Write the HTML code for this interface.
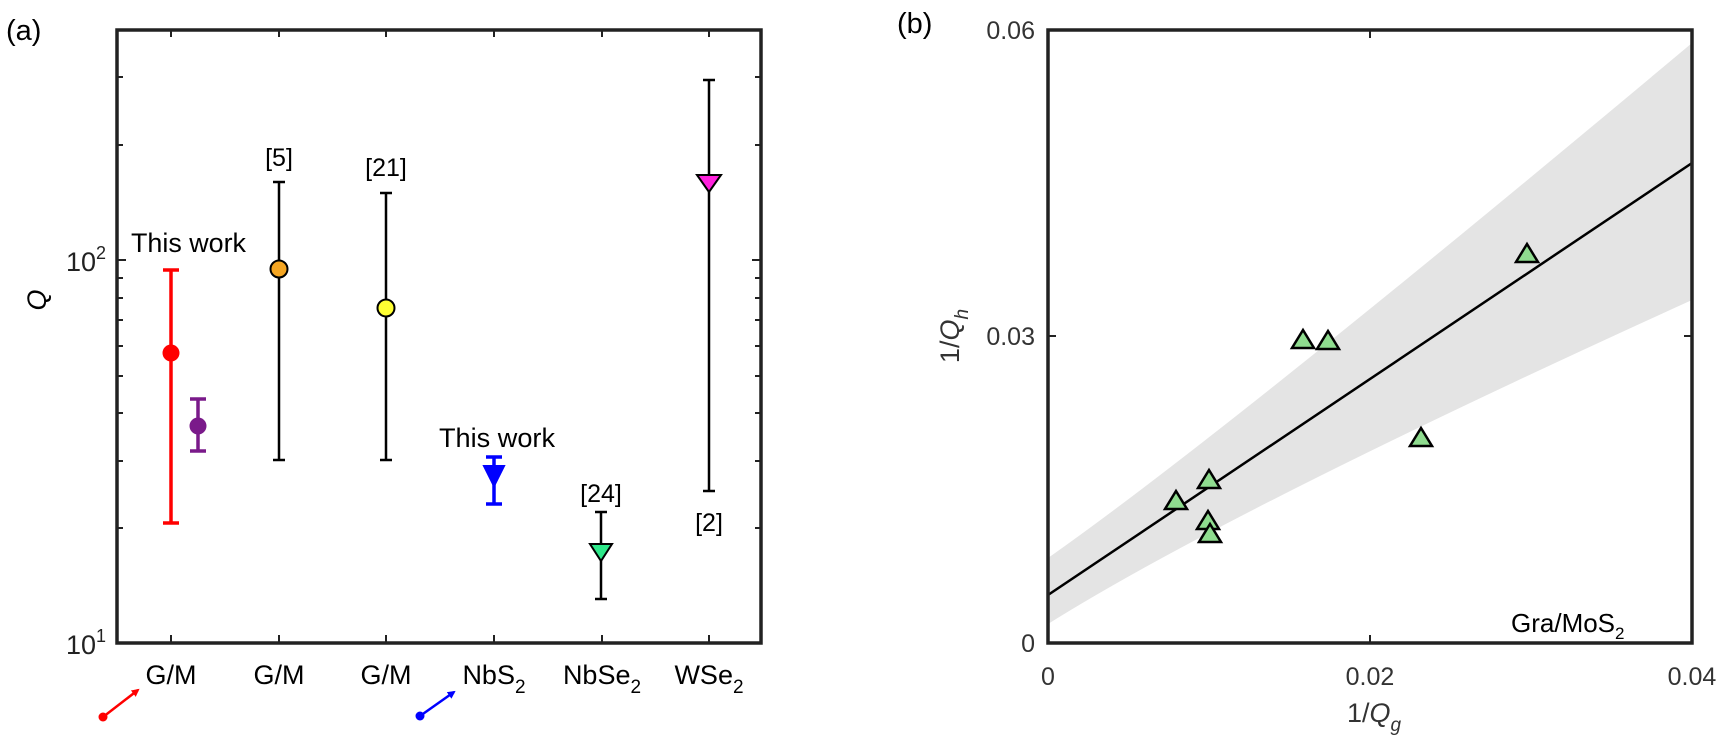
<!DOCTYPE html>
<html><head><meta charset="utf-8"><style>
html,body{margin:0;padding:0;background:#fff;}
svg{display:block;font-family:"Liberation Sans",sans-serif;}
</style></head><body>
<svg width="1725" height="750" viewBox="0 0 1725 750" xmlns="http://www.w3.org/2000/svg">
<defs>
<clipPath id="cb"><rect x="1048" y="30" width="644" height="613"/></clipPath>
<marker id="ar" markerWidth="8" markerHeight="8" refX="6" refY="4" orient="auto" markerUnits="userSpaceOnUse"><path d="M0,0 L8,4 L0,8 z" fill="red"/></marker>
<marker id="ab" markerWidth="8" markerHeight="8" refX="6" refY="4" orient="auto" markerUnits="userSpaceOnUse"><path d="M0,0 L8,4 L0,8 z" fill="blue"/></marker>
</defs>

<!-- Panel (a) -->
<text x="6" y="40" font-size="29">(a)</text>
<g stroke="#222" stroke-width="2">
<path d="M117,528h6M117,461h6M117,413h6M117,376h6M117,346h6M117,320h6M117,298h6M117,278h6M117,260h9M117,145h6M117,77h6
M761,528h-6M761,461h-6M761,413h-6M761,376h-6M761,346h-6M761,320h-6M761,298h-6M761,278h-6M761,260h-9M761,145h-6M761,77h-6"/>
<path d="M171,643v-8M279,643v-8M386,643v-8M494,643v-8M602,643v-8M709,643v-8
M171,30v7M279,30v7M386,30v7M494,30v7M602,30v7M709,30v7"/>
</g>
<rect x="117" y="30" width="644" height="613" fill="none" stroke="#222" stroke-width="3.5"/>
<g font-size="27" text-anchor="end" fill="#222">
<text x="106" y="271">10<tspan font-size="18" dy="-12">2</tspan></text>
<text x="106" y="654">10<tspan font-size="18" dy="-12">1</tspan></text>
</g>
<text transform="translate(46,300) rotate(-90)" font-size="27" font-style="italic" text-anchor="middle">Q</text>

<g stroke="red" stroke-width="3.5"><path d="M171,270V523M163,270h16M163,523h16"/></g>
<circle cx="171" cy="353" r="8.5" fill="red"/>
<g stroke="#7a1a8a" stroke-width="3.5"><path d="M198,399V451M190,399h16M190,451h16"/></g>
<circle cx="198" cy="426" r="8.5" fill="#7a1a8a"/>
<g stroke="#000" stroke-width="2.5"><path d="M279,182V460M273,182h12M273,460h12"/></g>
<circle cx="279" cy="269" r="8.5" fill="#f5a623" stroke="#000" stroke-width="2"/>
<g stroke="#000" stroke-width="2.5"><path d="M386,193V460M380,193h12M380,460h12"/></g>
<circle cx="386" cy="308" r="8.5" fill="#ffff33" stroke="#000" stroke-width="2"/>
<g stroke="blue" stroke-width="3.5"><path d="M494,457V504M486,457h16M486,504h16"/></g>
<path d="M484,466 L504,466 L494,486 z" fill="blue" stroke="blue" stroke-width="2"/>
<g stroke="#000" stroke-width="2.5"><path d="M601,512V599M595,512h12M595,599h12"/></g>
<path d="M590,544 L612,544 L601,561 z" fill="#2ee88a" stroke="#000" stroke-width="2"/>
<g stroke="#000" stroke-width="2.5"><path d="M709,80V491M703,80h12M703,491h12"/></g>
<path d="M697,175 L721,175 L709,192 z" fill="#ff22dd" stroke="#000" stroke-width="2"/>

<g font-size="25" text-anchor="middle">
<text x="279" y="166">[5]</text>
<text x="386" y="176">[21]</text>
<text x="601" y="502">[24]</text>
<text x="709" y="531">[2]</text>
</g>
<g font-size="27">
<text x="131" y="252" textLength="115" lengthAdjust="spacingAndGlyphs">This work</text>
<text x="439" y="447" textLength="116" lengthAdjust="spacingAndGlyphs">This work</text>
</g>
<g font-size="27" text-anchor="middle">
<text x="171" y="684">G/M</text>
<text x="279" y="684">G/M</text>
<text x="386" y="684">G/M</text>
<text x="494" y="684">NbS<tspan font-size="19" dy="9">2</tspan></text>
<text x="602" y="684">NbSe<tspan font-size="19" dy="9">2</tspan></text>
<text x="709" y="684">WSe<tspan font-size="19" dy="9">2</tspan></text>
</g>
<line x1="103" y1="717" x2="138" y2="690" stroke="red" stroke-width="2.5" marker-end="url(#ar)"/>
<circle cx="103" cy="717" r="4.5" fill="red"/>
<line x1="420" y1="716" x2="454" y2="692" stroke="blue" stroke-width="2.5" marker-end="url(#ab)"/>
<circle cx="420" cy="716" r="4.5" fill="blue"/>

<!-- Panel (b) -->
<text x="897" y="33" font-size="29">(b)</text>
<g clip-path="url(#cb)">
<path d="M1048,558 Q1230,430 1692,43 L1692,300 Q1230,510 1048,624 z" fill="#e4e4e4"/>
<line x1="1048" y1="595" x2="1692" y2="163" stroke="#000" stroke-width="2.5"/>
</g>
<g fill="#8fdc8f" stroke="#000" stroke-width="2.5">
<path d="M1176,491 L1187,509 L1165,509 z"/>
<path d="M1209,470 L1220,488 L1198,488 z"/>
<path d="M1208,511 L1219,529 L1197,529 z"/>
<path d="M1210,524 L1221,542 L1199,542 z"/>
<path d="M1303,330 L1314,348 L1292,348 z"/>
<path d="M1328,331 L1339,349 L1317,349 z"/>
<path d="M1421,428 L1432,446 L1410,446 z"/>
<path d="M1527,244 L1538,262 L1516,262 z"/>
</g>
<g stroke="#222" stroke-width="2">
<path d="M1370,643v-8M1370,30v8M1048,336h8M1692,336h-8"/>
</g>
<rect x="1048" y="30" width="644" height="613" fill="none" stroke="#222" stroke-width="3.5"/>
<g font-size="25" text-anchor="end" fill="#333">
<text x="1035" y="39">0.06</text>
<text x="1035" y="345">0.03</text>
<text x="1035" y="652">0</text>
</g>
<g font-size="25" text-anchor="middle" fill="#333">
<text x="1048" y="685">0</text>
<text x="1370" y="685">0.02</text>
<text x="1692" y="685">0.04</text>
</g>
<text x="1374" y="722" font-size="27" text-anchor="middle" fill="#333">1/<tspan font-style="italic">Q</tspan><tspan font-size="19" font-style="italic" dy="9">g</tspan></text>
<text transform="translate(959,336) rotate(-90)" font-size="27" text-anchor="middle" fill="#333">1/<tspan font-style="italic">Q</tspan><tspan font-size="19" font-style="italic" dy="9">h</tspan></text>
<text x="1511" y="632" font-size="26">Gra/MoS<tspan font-size="17" dy="7">2</tspan></text>
</svg>
</body></html>
